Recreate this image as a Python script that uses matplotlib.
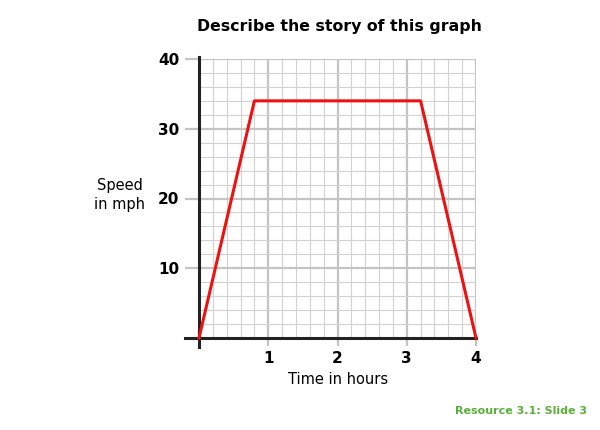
import numpy as np
import matplotlib
matplotlib.use('Agg')
import matplotlib.pyplot as plt

# journey: time (hours) vs speed (mph)
time_hours = [0, 0.8, 3.2, 4]
speed_mph = [0, 34, 34, 0]

x_major = [1, 2, 3, 4]
y_major = [10, 20, 30, 40]

fig = plt.figure(figsize=(6, 4.3), dpi=100)
ax = fig.add_axes([199 / 600, 92 / 430, 277 / 600, 279 / 430])

ax.set_xlim(0, 4)
ax.set_ylim(0, 40)

# grid
ax.set_xticks(x_major)
ax.set_yticks(y_major)
ax.set_xticks(np.arange(0, 4.01, 0.2), minor=True)
ax.set_yticks(np.arange(0, 40.1, 2), minor=True)
ax.grid(which='minor', color='#d2d2d2', linewidth=0.8)
ax.grid(which='major', color='#c4c4c4', linewidth=1.6)
ax.set_axisbelow(True)

for s in ax.spines.values():
    s.set_visible(False)

# tick sizes in points (1 px = 0.72 pt)
ax.tick_params(which='minor', length=0)
ax.tick_params(axis='y', which='major', length=10, width=1.6, color='#c4c4c4', pad=4, labelsize=11)
ax.tick_params(axis='x', which='major', length=5.5, width=1.6, color='#c4c4c4', pad=4, labelsize=11)
for lab in ax.get_xticklabels() + ax.get_yticklabels():
    lab.set_fontweight('bold')

# black axes lines
ax.axhline(0, xmin=-14 / 277, xmax=1.0, color='#222222', linewidth=2.2, clip_on=False, zorder=3)
ax.axvline(0, ymin=-9 / 279, ymax=1.008, color='#222222', linewidth=2.2, clip_on=False, zorder=3)

ax.plot(time_hours, speed_mph, color='#ee1111', linewidth=2.2, clip_on=False, zorder=4)

fig.text(339 / 600, 1 - 27 / 430, 'Describe the story of this graph', ha='center', va='center',
         fontsize=11.3, fontweight='bold')
fig.text(120 / 600, 1 - 195 / 430, 'Speed\nin mph', ha='center', va='center', fontsize=10.5,
         linespacing=1.3)
fig.text(338 / 600, 1 - 380 / 430, 'Time in hours', ha='center', va='center', fontsize=10.5)
fig.text(587 / 600, 1 - 411 / 430, 'Resource 3.1: Slide 3', ha='right', va='center', fontsize=8,
         fontweight='bold', color='#5aaf3a')

fig.savefig('out.png', dpi=100)
